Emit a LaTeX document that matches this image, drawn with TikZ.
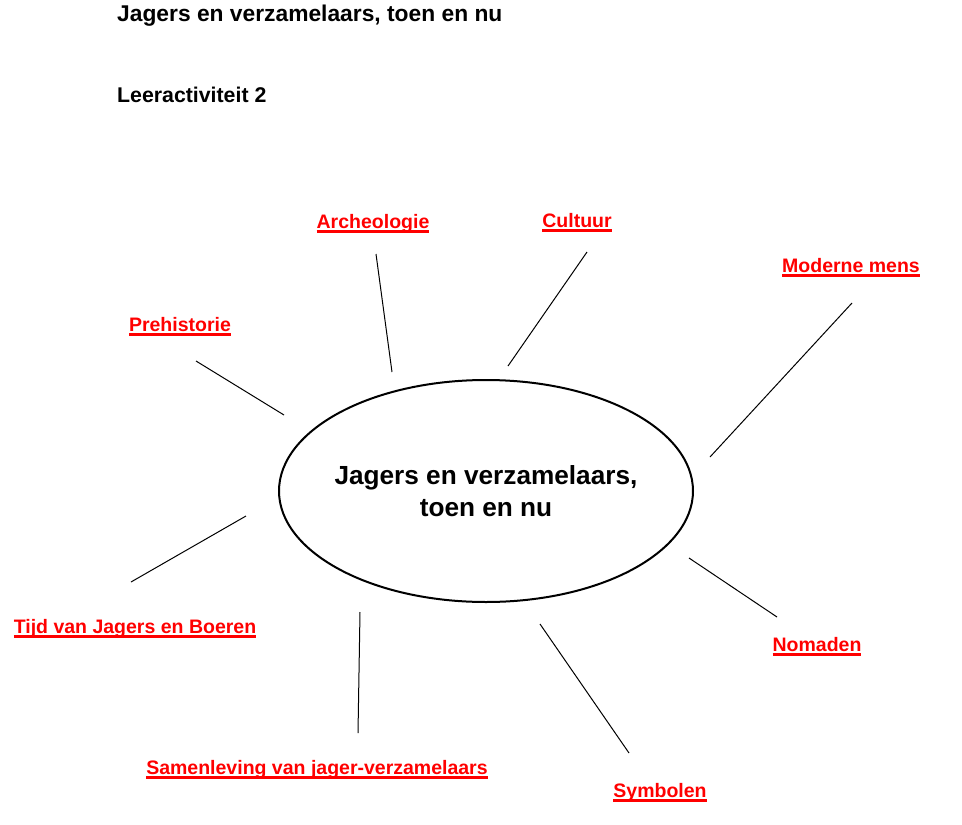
\documentclass[tikz,border=0pt]{standalone}
\usepackage{fontspec}
\setmainfont{Liberation Sans}
\usepackage{tikz}
\usetikzlibrary{shapes.geometric}
\definecolor{jred}{HTML}{FF0000}
\newsavebox\jbox
\newcommand\onderstreept[1]{\sbox\jbox{#1}\rlap{\usebox\jbox}\rule[-4.5pt]{\wd\jbox}{2.5pt}}
\newcommand\smal[1]{\makebox[0pt]{#1}}
\tikzset{
  jtitle/.style={anchor=base west, inner sep=0pt,
                 font=\bfseries\fontsize{22.8}{27}\selectfont},
  jsub/.style={anchor=base west, inner sep=0pt,
               font=\bfseries\fontsize{21.3}{26}\selectfont},
  jhub/.style={ellipse, draw=black, line width=2pt, align=center,
               minimum width=414pt, minimum height=222pt, inner sep=0pt,
               font=\bfseries\fontsize{26.2}{32}\selectfont},
  jlbl/.style={anchor=base, inner sep=0pt, text=jred,
               font=\bfseries\fontsize{19.5}{23}\selectfont},
  jspoke/.style={black, line width=1pt},
}
\begin{document}
\begin{tikzpicture}[x=1pt,y=-1pt]
  \useasboundingbox (0,0) rectangle (962,825);

  % koppen
  \node[jtitle] (titel) at (117,21) {Jagers en verzamelaars, toen en nu};
  \node[jsub] (activiteit) at (117,102) {Leeractiviteit 2};

  % middelpunt
  \node[jhub] (hub) at (486,491) {\smal{Jagers en verzamelaars,}\\\smal{toen en nu}};

  % begrippen
  \node[jlbl] (archeologie) at (373,228) {\onderstreept{Archeologie}};
  \node[jlbl] (cultuur) at (577,227) {\onderstreept{Cultuur}};
  \node[jlbl] (moderne) at (851,272) {\onderstreept{Moderne mens}};
  \node[jlbl] (prehistorie) at (180,331) {\onderstreept{Prehistorie}};
  \node[jlbl] (tijd) at (135,633) {\onderstreept{Tijd van Jagers en Boeren}};
  \node[jlbl] (samenleving) at (317,774) {\onderstreept{Samenleving van jager-verzamelaars}};
  \node[jlbl] (symbolen) at (660,797) {\onderstreept{Symbolen}};
  \node[jlbl] (nomaden) at (817,651) {\onderstreept{Nomaden}};

  % losse lijnen
  \coordinate (prehistorie-a) at (196,361);
  \coordinate (prehistorie-b) at (284,415);
  \coordinate (archeologie-a) at (376,254);
  \coordinate (archeologie-b) at (392,372);
  \coordinate (cultuur-a) at (587,252);
  \coordinate (cultuur-b) at (508,366);
  \coordinate (moderne-a) at (852,303);
  \coordinate (moderne-b) at (710,457);
  \coordinate (tijd-a) at (246,516);
  \coordinate (tijd-b) at (131,582);
  \coordinate (samenleving-a) at (360,612);
  \coordinate (samenleving-b) at (358,733);
  \coordinate (symbolen-a) at (540,624);
  \coordinate (symbolen-b) at (629,753);
  \coordinate (nomaden-a) at (689,558);
  \coordinate (nomaden-b) at (777,617);

  \draw[jspoke] (prehistorie-a) -- (prehistorie-b);
  \draw[jspoke] (archeologie-a) -- (archeologie-b);
  \draw[jspoke] (cultuur-a) -- (cultuur-b);
  \draw[jspoke] (moderne-a) -- (moderne-b);
  \draw[jspoke] (tijd-a) -- (tijd-b);
  \draw[jspoke] (samenleving-a) -- (samenleving-b);
  \draw[jspoke] (symbolen-a) -- (symbolen-b);
  \draw[jspoke] (nomaden-a) -- (nomaden-b);

\end{tikzpicture}
\end{document}
